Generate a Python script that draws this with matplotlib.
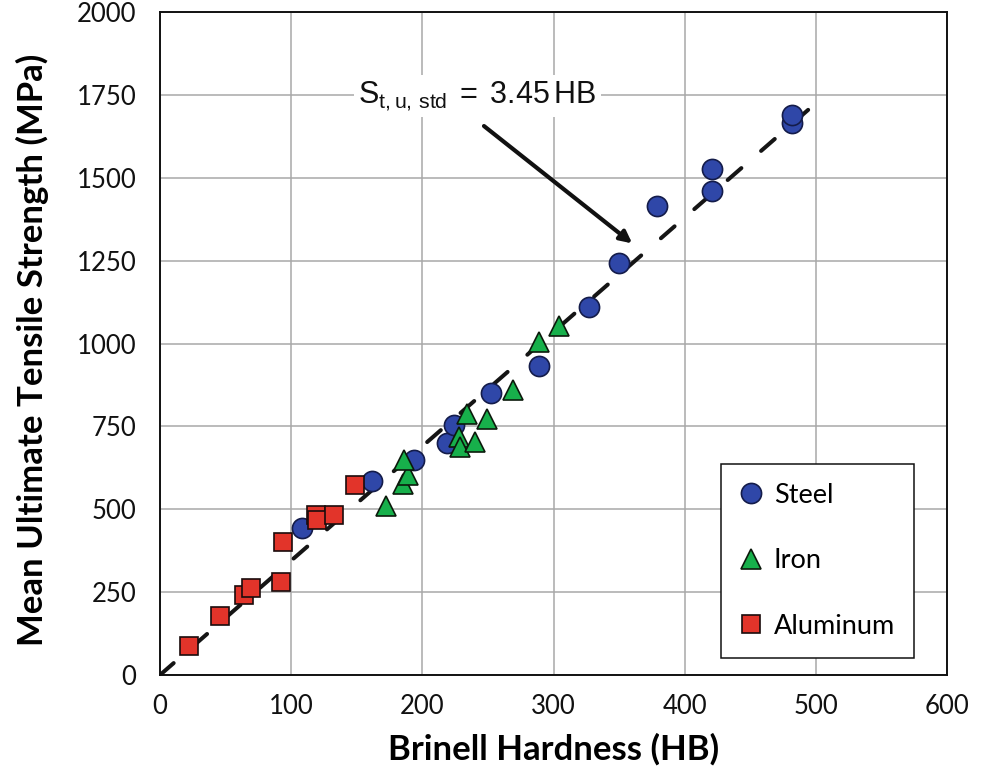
import matplotlib
matplotlib.use("Agg")
import matplotlib.pyplot as plt
import numpy as np

# values (HB, MPa)
steel_hb = [108, 162, 194, 219, 224, 252, 289, 327, 350, 379, 421, 421, 482, 482]
steel_su = [442, 584, 648, 701, 754, 852, 932, 1111, 1242, 1415, 1461, 1526, 1664, 1688]

iron_hb = [172, 185, 189, 186, 228, 229, 234, 240, 249, 269, 289, 304]
iron_su = [510, 577, 604, 649, 719, 687, 786, 702, 772, 860, 1005, 1052]

alum_hb = [22, 46, 64, 69, 92, 94, 119, 120, 133, 149]
alum_su = [88, 178, 240, 262, 282, 400, 482, 469, 482, 572]

fit_slope = 3.45
fit_hb = [0, 497]

x_ticks = [0, 100, 200, 300, 400, 500, 600]
y_ticks = [0, 250, 500, 750, 1000, 1250, 1500, 1750, 2000]

label_font = "Lato"
plt.rcParams["font.family"] = [label_font, "DejaVu Sans"]
plt.rcParams["mathtext.fontset"] = "custom"
plt.rcParams["mathtext.rm"] = "Liberation Sans"
plt.rcParams["mathtext.it"] = "Liberation Sans"
plt.rcParams["mathtext.default"] = "rm"

fig = plt.figure(figsize=(9.82, 7.8), dpi=100)
ax = fig.add_axes([160 / 982, 1 - 675 / 780, 787 / 982, 663 / 780])

ax.set_xlim(0, 600)
ax.set_ylim(0, 2000)
ax.set_xticks(x_ticks)
ax.set_yticks(y_ticks)
ax.grid(True, color="#a8a8a8", linewidth=1.1, zorder=0)
ax.set_axisbelow(True)
ax.tick_params(length=0, labelsize=18.5, colors="#111111")
ax.tick_params(axis="y", pad=17)
ax.tick_params(axis="x", pad=14)
for sp in ax.spines.values():
    sp.set_linewidth(1.4)
    sp.set_color("#111111")

# fitted line through the origin
fit_hb = np.array(fit_hb)
ax.plot(fit_hb, fit_slope * fit_hb, color="#151515", linewidth=2.9,
        dashes=(4.5, 6.5), dash_capstyle="round", zorder=2)

ax.plot(steel_hb, steel_su, "o", ms=14.5, mfc="#2f47a8", mec="#141c4a", mew=1.2,
        label="Steel", zorder=3)
ax.plot(iron_hb, iron_su, "^", ms=15, mfc="#17b04b", mec="#0c1a0c", mew=1.2,
        label="Iron", zorder=4)
ax.plot(alum_hb, alum_su, "s", ms=13.5, mfc="#e2342a", mec="#1a0c0c", mew=1.2,
        label="Aluminum", zorder=4)

ax.set_xlabel("Brinell Hardness (HB)", fontsize=25, fontweight="bold", labelpad=10)
ax.set_ylabel("Mean Ultimate Tensile Strength (MPa)", fontsize=25, fontweight="bold")
ax.yaxis.set_label_coords(-0.141, 0.49)

ax.text(242, 1725, r"$S_{t,u,\,std}\;=\;3.45\,HB$", fontsize=22,
        ha="center", va="baseline", color="#111111",
        bbox=dict(facecolor="white", edgecolor="none", pad=3), zorder=5)
ax.annotate("", xy=(360, 1302), xytext=(247, 1656),
            arrowprops=dict(arrowstyle="-|>,head_length=0.7,head_width=0.35",
                            color="#111111", lw=3, shrinkA=0, shrinkB=0), zorder=5)

leg = ax.legend(loc="lower right", bbox_to_anchor=(0.958, 0.026), borderaxespad=0,
                fontsize=19.5, frameon=True, fancybox=False, framealpha=1,
                edgecolor="#111111", handlelength=0.8, handletextpad=0.45,
                labelspacing=1.5, borderpad=0.7, numpoints=1)
leg.get_frame().set_linewidth(1.1)

fig.savefig("out.png", dpi=100)
